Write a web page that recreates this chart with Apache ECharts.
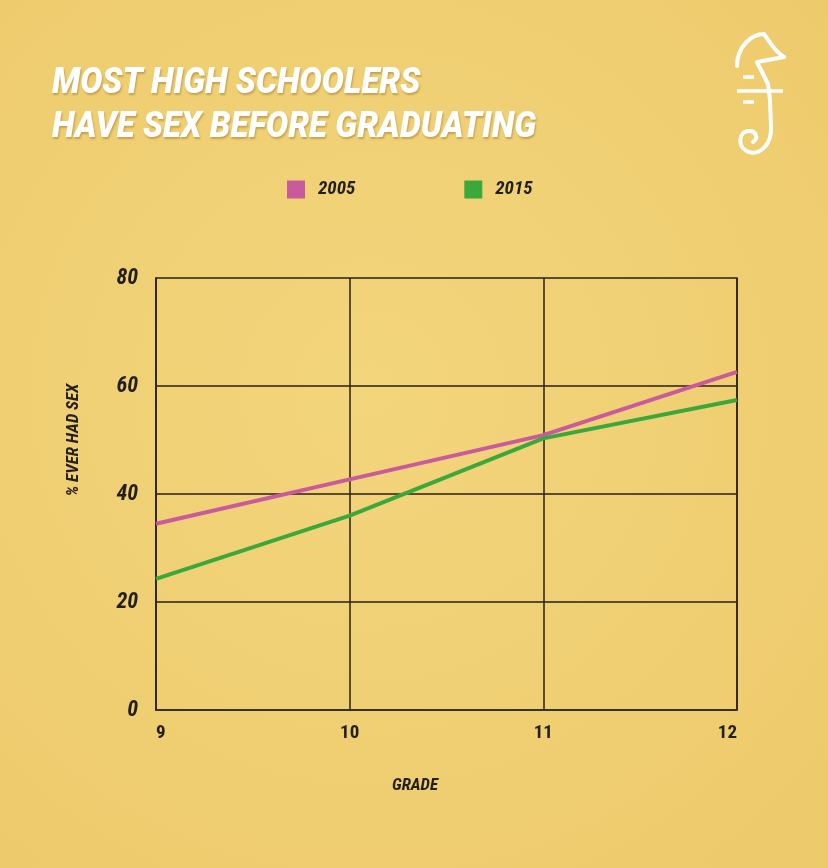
<!DOCTYPE html>
<html>
<head>
<meta charset="utf-8">
<script src="https://cdn.jsdelivr.net/npm/echarts@6/dist/echarts.min.js"></script>
<style>
html,body{margin:0;padding:0;}
#chart{width:828px;height:868px;}
</style>
</head>
<body>
<div id="chart"></div>
<script>
const grades = ['9', '10', '11', '12'];
const series2005 = [34.5, 42.7, 50.9, 62.6];
const series2015 = [24.3, 36.0, 50.3, 57.4];
const yTicks = [0, 20, 40, 60, 80];
const seriesNames = ['2005', '2015'];
const titleLines = ['MOST HIGH SCHOOLERS', 'HAVE SEX BEFORE GRADUATING'];
const xAxisName = 'GRADE';
const yAxisName = '% EVER HAD SEX';

const FONT = '"Roboto Condensed", "Liberation Sans Narrow", "DejaVu Sans Condensed", Roboto, sans-serif';
const PINK = '#C95A9C';
const GREEN = '#3CA83C';
const INK = '#231F1C';
const W = '#FFFFFF';
const logoStyle = { fill: null, stroke: W, lineWidth: 4, lineCap: 'round', lineJoin: 'round' };

const chart = echarts.init(document.getElementById('chart'));
chart.setOption({
  backgroundColor: {
    type: 'radial', x: 0.45, y: 0.45, r: 0.8,
    colorStops: [{offset: 0, color: '#F3D57C'}, {offset: 1, color: '#EDCA6B'}]
  },
  animation: false,
  legend: {
    data: seriesNames,
    left: 287, top: 180, padding: 0,
    icon: 'rect', itemWidth: 18, itemHeight: 18, itemGap: 109,
    textStyle: {
      color: INK, fontFamily: FONT, fontWeight: 'bold', fontStyle: 'italic', fontSize: 19,
      padding: [0, 0, 0, 8]
    }
  },
  grid: {
    left: 156, right: 91, top: 278, bottom: 158,
    show: true, borderColor: '#2E2A25', borderWidth: 1.5, backgroundColor: 'transparent'
  },
  xAxis: {
    type: 'category', data: grades, boundaryGap: false,
    axisLine: { show: true, lineStyle: { color: '#2E2A25', width: 1.5 } },
    axisTick: { show: false },
    axisLabel: { color: INK, fontFamily: FONT, fontWeight: 'bold', fontSize: 19, margin: 14,
      alignMinLabel: 'left', alignMaxLabel: 'right' },
    splitLine: { show: true, lineStyle: { color: '#26221E', width: 1.5 } }
  },
  yAxis: {
    type: 'value', min: 0, max: 80, interval: 20,
    axisLine: { show: true, lineStyle: { color: '#2E2A25', width: 1.5 } },
    axisTick: { show: false },
    axisLabel: { color: INK, fontFamily: FONT, fontWeight: 'bold', fontStyle: 'italic', fontSize: 22, margin: 18,
      formatter: v => (yTicks.indexOf(v) >= 0 ? String(v) : '') },
    splitLine: { show: true, lineStyle: { color: '#5A4B33', width: 2 } }
  },
  series: [
    { name: seriesNames[0], type: 'line', data: series2005, symbol: 'none',
      lineStyle: { color: PINK, width: 4 }, itemStyle: { color: PINK } },
    { name: seriesNames[1], type: 'line', data: series2015, symbol: 'none',
      lineStyle: { color: GREEN, width: 4 }, itemStyle: { color: GREEN } }
  ],
  graphic: [
    { type: 'text', left: 52, top: 62, scaleX: 0.92, originX: 0, originY: 0,
      style: { text: titleLines.join('\n'), fill: W, fontFamily: 'Roboto, sans-serif', fontWeight: 900,
        fontStyle: 'italic', fontSize: 36, lineHeight: 44,
        textShadowColor: 'rgba(120,80,0,0.35)', textShadowBlur: 2, textShadowOffsetX: 1, textShadowOffsetY: 2 } },
    { type: 'text', x: 415, y: 786,
      style: { text: xAxisName, fill: INK, fontFamily: FONT, fontWeight: 'bold', fontStyle: 'italic', fontSize: 17,
        align: 'center', verticalAlign: 'middle' } },
    { type: 'text', x: 74, y: 440, rotation: Math.PI / 2,
      style: { text: yAxisName, fill: INK, fontFamily: FONT, fontWeight: 'bold', fontStyle: 'italic', fontSize: 17,
        align: 'center', verticalAlign: 'middle' } },
    { type: 'bezierCurve', shape: { x1: 737, y1: 66, cpx1: 737, cpy1: 46, cpx2: 752, cpy2: 34, x2: 764, y2: 34 }, style: logoStyle },
    { type: 'bezierCurve', shape: { x1: 764, y1: 34, cpx1: 770, cpy1: 42, cpx2: 774, cpy2: 51, x2: 784, y2: 57 }, style: logoStyle },
    { type: 'polyline', shape: { points: [[784, 57], [757, 62], [768, 84], [770, 100], [771, 126]] }, style: logoStyle },
    { type: 'bezierCurve', shape: { x1: 771, y1: 126, cpx1: 772, cpy1: 146, cpx2: 759, cpy2: 155, x2: 749, y2: 152 }, style: logoStyle },
    { type: 'bezierCurve', shape: { x1: 749, y1: 152, cpx1: 737, cpy1: 148, cpx2: 738, cpy2: 132, x2: 748, y2: 131 }, style: logoStyle },
    { type: 'bezierCurve', shape: { x1: 748, y1: 131, cpx1: 756, cpy1: 130, cpx2: 759, cpy2: 138, x2: 753, y2: 142 }, style: logoStyle },
    { type: 'line', shape: { x1: 743, y1: 77, x2: 754, y2: 77 }, style: { stroke: W, lineWidth: 3.5 } },
    { type: 'line', shape: { x1: 737, y1: 91, x2: 783, y2: 91 }, style: { stroke: W, lineWidth: 3.5 } },
    { type: 'line', shape: { x1: 743, y1: 102, x2: 754, y2: 102 }, style: { stroke: W, lineWidth: 3.5 } }
  ]
});
</script>
</body>
</html>
